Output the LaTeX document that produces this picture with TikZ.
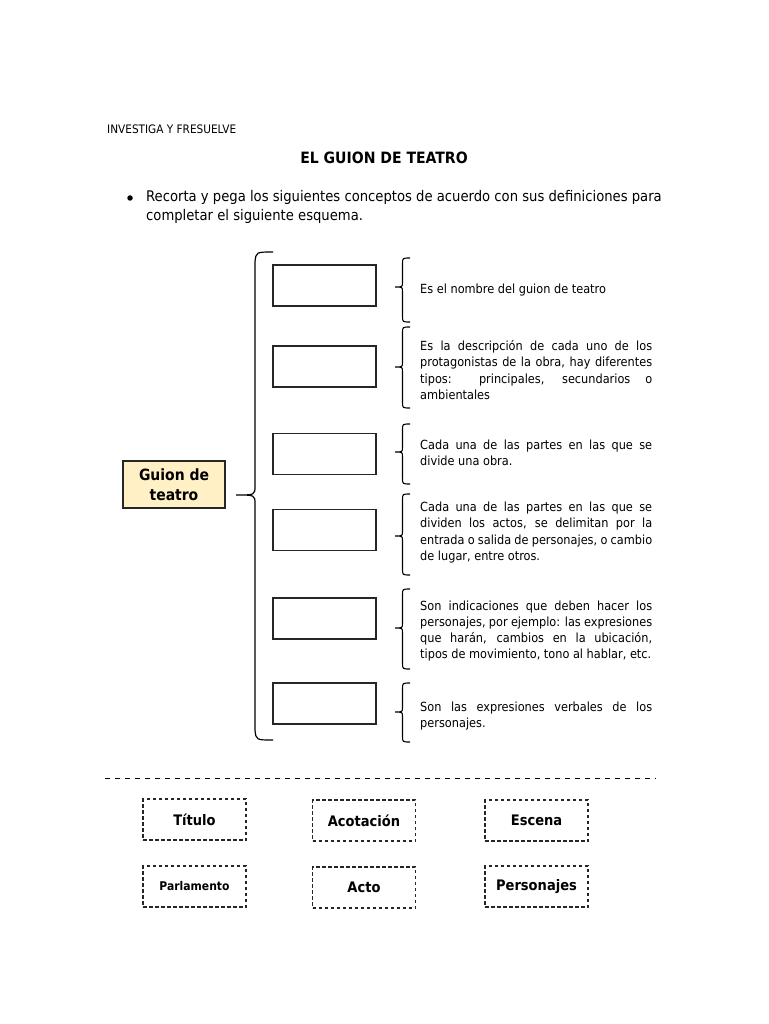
\documentclass[tikz,border=0pt]{standalone}
\usepackage{fontspec}
\setmainfont{DejaVu Sans Condensed}
\definecolor{yellowfill}{HTML}{FFF0C6}
\begin{document}
\begin{tikzpicture}[x=1pt,y=-1pt,
  emptybox/.style={draw=black!85,line width=1.2pt,minimum width=103pt,minimum height=41pt,inner sep=0pt},
  cutbox/.style={draw=black!85,line width=1.1pt,dash pattern=on 3.5pt off 2.5pt,minimum width=103pt,minimum height=41pt,inner sep=0pt,font=\fontsize{14.5}{16}\selectfont\bfseries},
  deftext/.style={anchor=west,inner sep=0pt,align=left,font=\fontsize{12.6}{16.3}\selectfont},
  bracepath/.style={draw=black,line width=1.2pt},
]
\useasboundingbox (0,0) rectangle (768,1024);
\fill[white] (0,0) rectangle (768,1024);

% header
\node[anchor=west,inner sep=0pt,font=\fontsize{11.7}{13}\selectfont] (hdr) at (107,129) {INVESTIGA Y FRESUELVE};
\node[inner sep=0pt,font=\fontsize{15.6}{17}\selectfont\bfseries] (ttl) at (384,158) {EL GUION DE TEATRO};
\node[circle,fill=black,inner sep=0pt,minimum size=5.5pt] (bul) at (130,198) {};
\node[anchor=west,inner sep=0pt,align=left,font=\fontsize{14.65}{19}\selectfont] (intro) at (146,206.5)
  {Recorta y pega los siguientes conceptos de acuerdo con sus definiciones para\\completar el siguiente esquema.};

% main node
\node[draw=black!85,line width=1.2pt,fill=yellowfill,minimum width=102pt,minimum height=47pt,inner sep=0pt,align=center,font=\fontsize{15.5}{19.5}\selectfont\bfseries] (guion) at (174,484.5) {Guion de\\teatro};

% empty boxes
\node[emptybox] (b1) at (324.5,285.5) {};
\node[emptybox] (b2) at (324.5,366.5) {};
\node[emptybox] (b3) at (324.5,454) {};
\node[emptybox] (b4) at (324.5,530) {};
\node[emptybox] (b5) at (324.5,618.5) {};
\node[emptybox] (b6) at (324.5,703.5) {};

% big brace
\coordinate (bt) at (273,252);
\coordinate (bb) at (273,740);
\coordinate (btip) at (236,495);
\draw[bracepath] (bt) .. controls (256,252) .. (255,262) -- (255,486) .. controls (255,495) .. (btip)
  .. controls (255,495) .. (255,504) -- (255,730) .. controls (256,740) .. (bb);

% small braces
\newcommand{\smallbrace}[4]{% top, tip, bottom, name
  \coordinate (#4t) at (410,#1);
  \coordinate (#4b) at (410,#3);
  \coordinate (#4tip) at (395,#2);
  \draw[bracepath,line width=1.1pt] (#4t) .. controls (402.5,#1) .. (402.5,#1+6) -- (402.5,#2-5) .. controls (402.5,#2) .. (#4tip)
    .. controls (402.5,#2) .. (402.5,#2+5) -- (402.5,#3-6) .. controls (402.5,#3) .. (#4b);
}
\smallbrace{258}{287}{322}{s1}
\smallbrace{327}{367}{408}{s2}
\smallbrace{424}{452}{484}{s3}
\smallbrace{494}{536}{575}{s4}
\smallbrace{589}{628}{669}{s5}
\smallbrace{683}{712}{742}{s6}

% definitions
\newcommand{\jl}[1]{\makebox[232pt][s]{#1}}
\node[deftext] (d1) at (420,290) {Es el nombre del guion de teatro};
\node[deftext] (d2) at (420,370) {\jl{Es la descripción de cada uno de los}\\\jl{protagonistas de la obra, hay diferentes}\\\jl{tipos: principales, secundarios o}\\ambientales};
\node[deftext] (d3) at (420,452.5) {\jl{Cada una de las partes en las que se}\\divide una obra.};
\node[deftext] (d4) at (420,532.5) {\jl{Cada una de las partes en las que se}\\\jl{dividen los actos, se delimitan por la}\\\jl{entrada o salida de personajes, o cambio}\\de lugar, entre otros.};
\node[deftext] (d5) at (420,631) {\jl{Son indicaciones que deben hacer los}\\\jl{personajes, por ejemplo: las expresiones}\\\jl{que harán, cambios en la ubicación,}\\tipos de movimiento, tono al hablar, etc.};
\node[deftext] (d6) at (420,716) {\jl{Son las expresiones verbales de los}\\personajes.};

% cut line
\coordinate (cl) at (105,778);
\coordinate (cr) at (656,778);
\draw[line width=1pt,dash pattern=on 5pt off 5pt] (cl) -- (cr);

% cut boxes
\node[cutbox] (c1) at (194.5,819.5) {Título};
\node[cutbox] (c2) at (364,820.5) {Acotación};
\node[cutbox] (c3) at (536.5,820.5) {Escena};
\node[cutbox,font=\fontsize{12}{14}\selectfont\bfseries] (c4) at (194.5,886.5) {Parlamento};
\node[cutbox] (c5) at (364,887.5) {Acto};
\node[cutbox] (c6) at (536.5,886.5) {Personajes};
\end{tikzpicture}
\end{document}
